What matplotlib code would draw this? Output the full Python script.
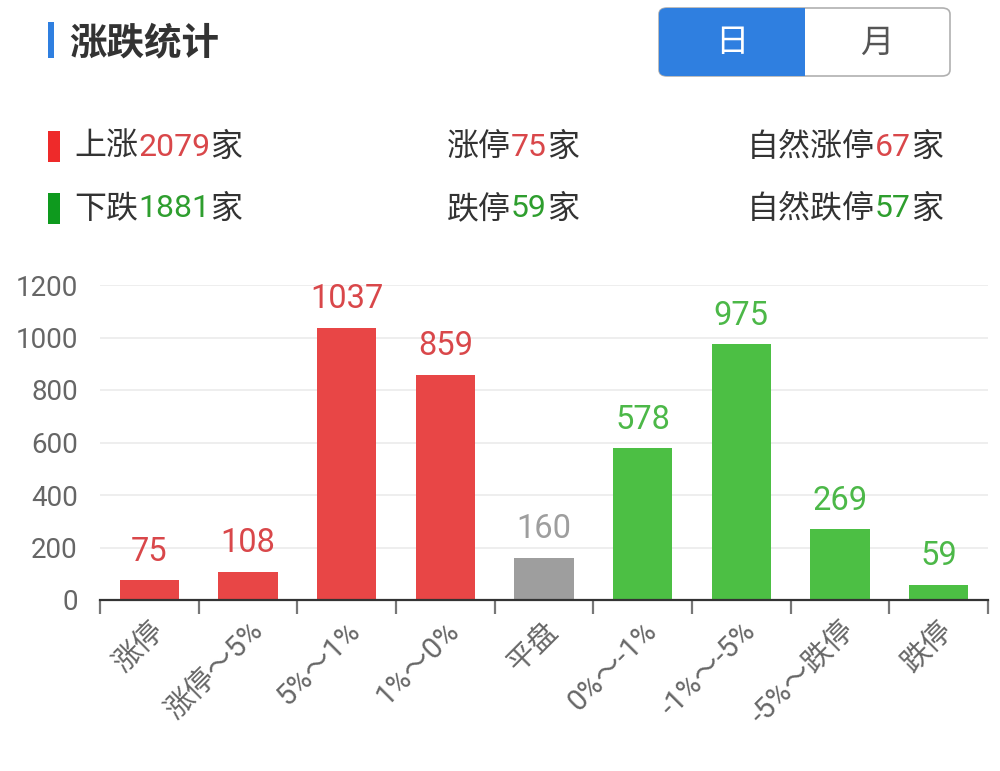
import matplotlib
matplotlib.use("Agg")
import matplotlib.pyplot as plt
from matplotlib.patches import FancyBboxPatch, Rectangle
import numpy as np

plt.rcParams['font.family'] = ['Roboto', 'Noto Sans CJK SC', 'DejaVu Sans']

# ---- data ----
categories = ["涨停", "涨停～5%", "5%～1%", "1%～0%", "平盘", "0%～-1%", "-1%～-5%", "-5%～跌停", "跌停"]
values = [75, 108, 1037, 859, 160, 578, 975, 269, 59]
groups = ["up", "up", "up", "up", "flat", "down", "down", "down", "down"]
yticks = [0, 200, 400, 600, 800, 1000, 1200]
up_total, down_total = 2079, 1881
limit_up, limit_down = 75, 59
natural_up, natural_down = 67, 57
title = "涨跌统计"
buttons = ["日", "月"]

bar_colors = {"up": "#E84646", "flat": "#9E9E9E", "down": "#4CBF44"}
label_colors = {"up": "#D9474A", "flat": "#9E9E9E", "down": "#4CB848"}
RED_TXT = "#D9474A"
GREEN_TXT = "#2E9E2E"

W, H = 1000, 771
fig = plt.figure(figsize=(W / 100, H / 100), dpi=100)
fig.patch.set_facecolor("white")

def fx(px):
    return px / W

def fy(py):
    return 1 - py / H

CJK = ['Noto Sans CJK SC', 'DejaVu Sans']

# ---- title ----
fig.patches.append(Rectangle((fx(48), fy(58)), fx(6), (36) / H, transform=fig.transFigure,
                             facecolor="#2F7FE0", edgecolor="none"))
fig.text(fx(69), fy(43), title, fontsize=27, fontweight="bold", color="#333333",
         ha="left", va="center", family=CJK)

# ---- buttons ----
bx0, by0, bw, bh = 659, 8, 291, 68
outer = FancyBboxPatch((fx(bx0), fy(by0 + bh)), fx(bw), bh / H,
                       boxstyle="round,pad=0,rounding_size=0.008",
                       transform=fig.transFigure, facecolor="white",
                       edgecolor="#B0B0B0", linewidth=1.2)
fig.patches.append(outer)
left_btn = FancyBboxPatch((fx(bx0), fy(by0 + bh)), fx(146), bh / H,
                          boxstyle="round,pad=0,rounding_size=0.008",
                          transform=fig.transFigure, facecolor="#2F7FE0",
                          edgecolor="none")
fig.patches.append(left_btn)
fig.patches.append(Rectangle((fx(bx0 + 120), fy(by0 + bh)), fx(26), bh / H,
                             transform=fig.transFigure, facecolor="#2F7FE0", edgecolor="none"))
fig.text(fx(732), fy(43), buttons[0], fontsize=24, color="white", ha="center", va="center",
         family=CJK)
fig.text(fx(877), fy(43), buttons[1], fontsize=24, color="#555555", ha="center", va="center",
         family=CJK)

# ---- legend / summary ----
renderer = fig.canvas.get_renderer()

def rich(x_px, y_px, parts, size=23):
    x = fx(x_px)
    for s, c in parts:
        t = fig.text(x, fy(y_px), s, fontsize=size, color=c, ha="left", va="center")
        bb = t.get_window_extent(renderer=renderer)
        x += bb.width / W

DARK = "#333333"
fig.patches.append(Rectangle((fx(48), fy(162)), fx(12), 31 / H, transform=fig.transFigure,
                             facecolor="#EE2A2A", edgecolor="none"))
fig.patches.append(Rectangle((fx(48), fy(224)), fx(12), 31 / H, transform=fig.transFigure,
                             facecolor="#0E9A1E", edgecolor="none"))
rich(74, 147, [("上涨", DARK), (str(up_total), RED_TXT), ("家", DARK)])
rich(74, 209, [("下跌", DARK), (str(down_total), GREEN_TXT), ("家", DARK)])
rich(447, 147, [("涨停", DARK), (str(limit_up), RED_TXT), ("家", DARK)])
rich(447, 209, [("跌停", DARK), (str(limit_down), GREEN_TXT), ("家", DARK)])
rich(747, 147, [("自然涨停", DARK), (str(natural_up), RED_TXT), ("家", DARK)])
rich(747, 209, [("自然跌停", DARK), (str(natural_down), GREEN_TXT), ("家", DARK)])

# ---- chart ----
ax_l, ax_r, ax_b, ax_t = 100, 988, 600, 285
ax = fig.add_axes([fx(ax_l), fy(ax_b), fx(ax_r - ax_l), (ax_b - ax_t) / H])
x = np.arange(len(categories))
ax.bar(x, values, width=0.6, color=[bar_colors[g] for g in groups], zorder=3)
for xi, v, g in zip(x, values, groups):
    ax.annotate(str(v), (xi, v), xytext=(0, 9), textcoords="offset points",
                ha="center", va="bottom", fontsize=23.5, color=label_colors[g])

ax.set_xlim(-0.5, len(categories) - 0.5)
ax.set_ylim(0, 1200)
ax.set_yticks(yticks)
ax.set_yticklabels([str(t) for t in yticks])
ax.tick_params(axis="y", length=0, pad=16, labelsize=20, labelcolor="#666666")
ax.grid(axis="y", color="#EBEBEB", linewidth=1.2, zorder=0)
for s in ["top", "right", "left"]:
    ax.spines[s].set_visible(False)
ax.spines["bottom"].set_color("#333333")
ax.spines["bottom"].set_linewidth(1.6)
ax.spines["bottom"].set_zorder(4)

ax.set_xticks(x)
ax.set_xticklabels(categories, rotation=45, ha="right", rotation_mode="anchor",
                   family=['Roboto', 'Noto Sans CJK SC', 'DejaVu Sans'])
ax.tick_params(axis="x", which="major", length=0, pad=12, labelsize=21, labelcolor="#666666")
ax.set_xticks(np.arange(-0.5, len(categories)), minor=True)
ax.tick_params(axis="x", which="minor", length=10, width=1.6, color="#777777")

fig.savefig("out.png", dpi=100, facecolor="white")
